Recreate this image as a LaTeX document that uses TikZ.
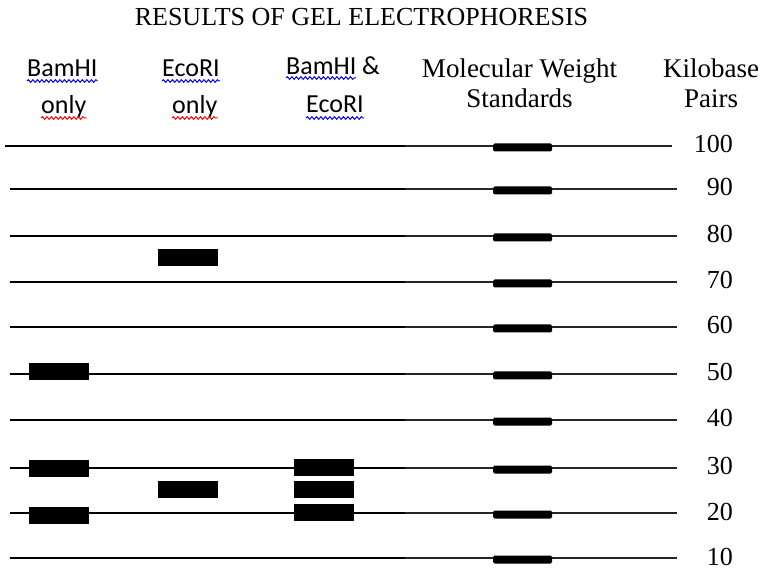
\documentclass[tikz,border=0pt]{standalone}
\usepackage{fontspec}
\setmainfont{Liberation Serif}
\newfontfamily\calibri{Carlito}
\usetikzlibrary{decorations.pathmorphing}
\tikzstyle{lane} = [line width=2.2pt, black]
\tikzstyle{ladder} = [line width=1.6pt, black!85]
\tikzstyle{band} = [fill=black, draw=none, rectangle, inner sep=0pt,
    minimum width=60pt, minimum height=17pt]
\tikzstyle{mwband} = [band, minimum width=59pt, minimum height=8pt,
    rounded corners=1.5pt]
\tikzstyle{heading} = [font=\calibri\fontsize{26}{30}\selectfont,
    inner sep=0pt, anchor=base west]
\tikzstyle{serifhead} = [font=\fontsize{27}{32}\selectfont, inner sep=0pt, anchor=base]
\tikzstyle{kb} = [font=\fontsize{26}{30}\selectfont, inner sep=0pt, anchor=base east]
\tikzstyle{squiggle} = [decorate, decoration={snake, amplitude=1.3pt,
    segment length=4.5pt}, line width=1pt]

\begin{document}
\begin{tikzpicture}[x=1pt, y=-1pt]
    \useasboundingbox (0,0) rectangle (764,572);
    % title
    \node[font=\fontsize{26}{30}\selectfont, inner sep=0pt, anchor=base]
        (title) at (361.5,26) {RESULTS OF GEL ELECTROPHORESIS};
    % lane headings
    \node[heading] (bam1) at (27,77) {BamHI};
    \node[heading] (only1) at (41,114) {only};
    \node[heading] (eco2) at (162,77) {EcoRI};
    \node[heading] (only2) at (172,114) {only};
    \node[heading] (bam3) at (286,75) {BamHI \&};
    \node[heading] (eco3) at (306,113) {EcoRI};
    \node[serifhead] (mw1) at (519.5,78) {Molecular Weight};
    \node[serifhead] (mw2) at (519.5,108) {Standards};
    \node[serifhead] (kbp1) at (711,78) {Kilobase};
    \node[serifhead] (kbp2) at (711,108) {Pairs};
    % spell check marks
    \draw[squiggle, blue] ([yshift=-4pt]bam1.base west) -- ([yshift=-4pt]bam1.base east);
    \draw[squiggle, red] ([yshift=-4pt]only1.base west) -- ([yshift=-4pt]only1.base east);
    \draw[squiggle, blue] ([yshift=-4pt]eco2.base west) -- ([yshift=-4pt]eco2.base east);
    \draw[squiggle, red] ([yshift=-4pt]only2.base west) -- ([yshift=-4pt]only2.base east);
    \draw[squiggle, blue] ([yshift=-3pt]bam3.base west) -- ([yshift=-3pt,xshift=-24pt]bam3.base east);
    \draw[squiggle, blue] ([yshift=-5pt]eco3.base west) -- ([yshift=-5pt]eco3.base east);
    % gel lines and ladder
    \foreach \kbp/\y/\xa/\xb in {100/146/5/672, 90/189/10/677, 80/236/10/677,
        70/282/10/677, 60/327/10/677, 50/374/10/677, 40/420/10/677,
        30/468/10/677, 20/513/10/677, 10/558/10/677} {
        \coordinate (l\kbp) at (\xa,\y);
        \coordinate (m\kbp) at (405,\y);
        \coordinate (r\kbp) at (\xb,\y);
        \draw[lane] (l\kbp) -- (m\kbp);
        \draw[ladder] (m\kbp) -- (r\kbp);
        \node[mwband] (mw\kbp) at (522.5,\y+1.5) {};
        \node[kb] (kb\kbp) at (733,\y+7) {\kbp};
    }
    % BamHI only
    \node[band] (bamA) at (59,372) {};
    \node[band] (bamB) at (59,468.5) {};
    \node[band] (bamC) at (59,515.5) {};
    % EcoRI only
    \node[band] (ecoA) at (188,258) {};
    \node[band] (ecoB) at (188,489.5) {};
    % BamHI & EcoRI
    \node[band] (bothA) at (324,467.5) {};
    \node[band] (bothB) at (324,489.5) {};
    \node[band] (bothC) at (324,512.5) {};
\end{tikzpicture}
\end{document}
